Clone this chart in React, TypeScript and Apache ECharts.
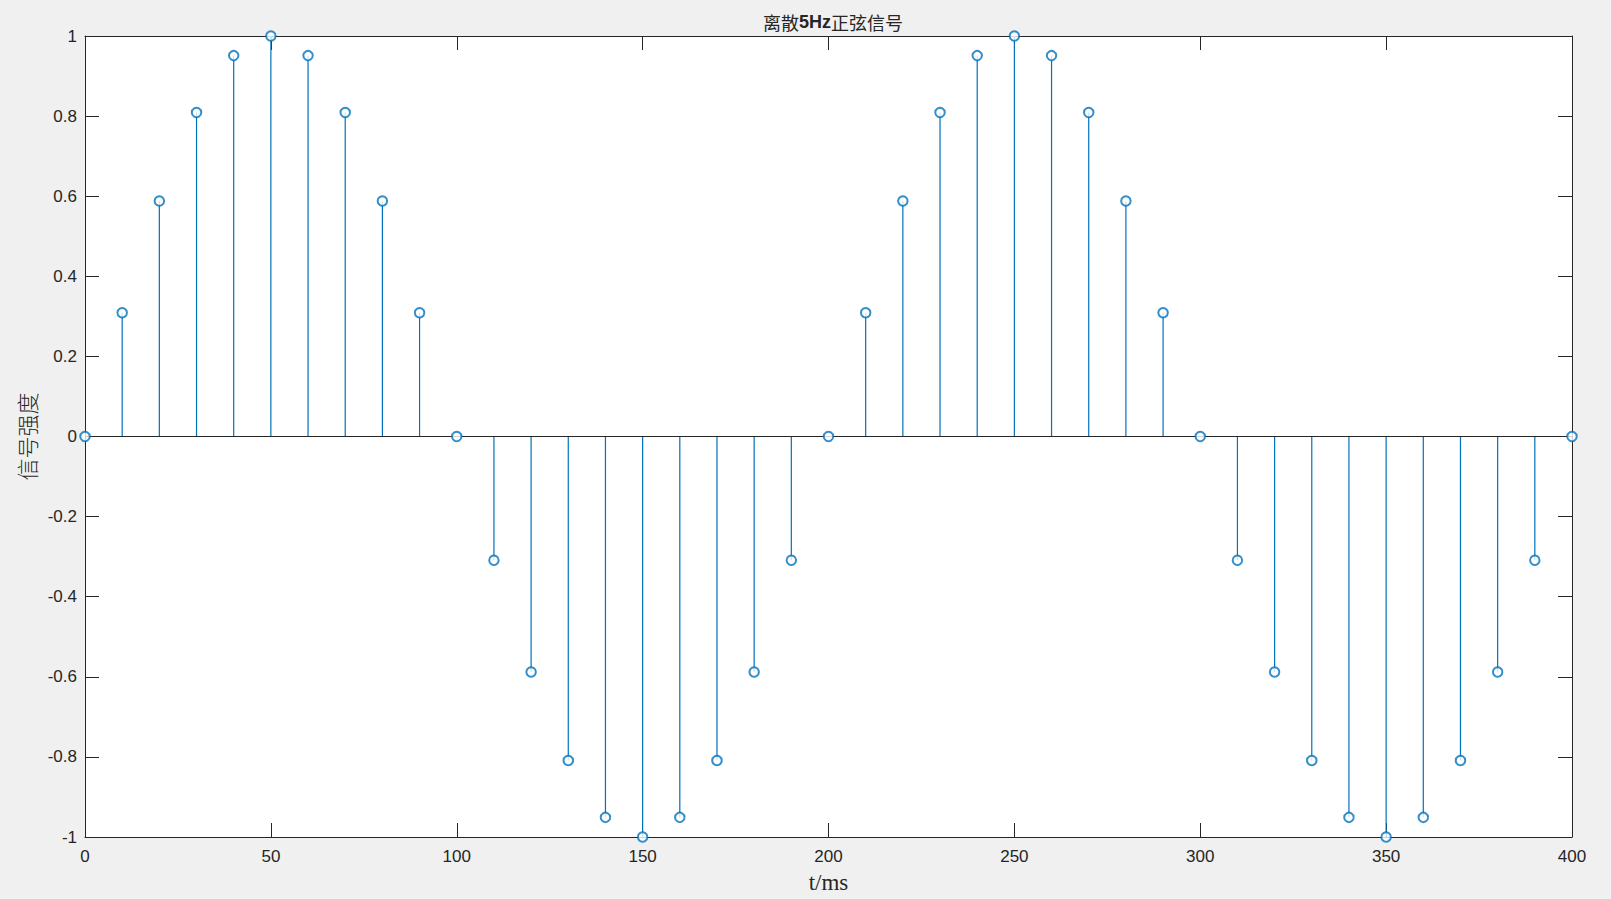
import React, { useEffect, useRef } from "react";
import * as echarts from "echarts";

const timesMs: number[] = [
  0, 10, 20, 30, 40, 50, 60, 70, 80, 90, 100, 110, 120, 130, 140, 150, 160, 170, 180, 190, 200,
  210, 220, 230, 240, 250, 260, 270, 280, 290, 300, 310, 320, 330, 340, 350, 360, 370, 380, 390, 400,
];
const amplitudes: number[] = [
  0, 0.309, 0.588, 0.809, 0.951, 1, 0.951, 0.809, 0.588, 0.309,
  0, -0.309, -0.588, -0.809, -0.951, -1, -0.951, -0.809, -0.588, -0.309,
  0, 0.309, 0.588, 0.809, 0.951, 1, 0.951, 0.809, 0.588, 0.309,
  0, -0.309, -0.588, -0.809, -0.951, -1, -0.951, -0.809, -0.588, -0.309,
  0,
];
const titleParts: string[] = ["离散", "5Hz", "正弦信号"];
const xLabel = "t/ms";
const yLabel = "信号强度";

const AXIS = "#262626";
const STEM = "#0072BD";
const SANS = "'Liberation Sans', Arial, 'Noto Sans CJK SC', sans-serif";

export default function App() {
  const ref = useRef<HTMLDivElement>(null);

  useEffect(() => {
    document.body.style.margin = "0";
    if (!ref.current) return;
    const chart = echarts.init(ref.current, null, { renderer: "svg" });
    const pts = timesMs.map((t, i) => [t, amplitudes[i]]);

    const tickCommon = {
      show: true,
      inside: true,
      length: 14,
      lineStyle: { color: AXIS, width: 1 },
    };

    chart.setOption({
      animation: false,
      backgroundColor: "#f0f0f0",
      title: {
        text: `{cn|${titleParts[0]}}{b|${titleParts[1]}}{cn|${titleParts[2]}}`,
        left: 828,
        textAlign: "center",
        top: 8,
        textStyle: {
          fontWeight: "normal",
          fontSize: 18,
          rich: {
            cn: { fontFamily: "'Noto Sans CJK SC', sans-serif", fontSize: 18, fontWeight: "normal", color: AXIS },
            b: { fontFamily: SANS, fontSize: 18, fontWeight: "bold", color: AXIS },
          },
        },
      },
      grid: {
        left: 85,
        top: 36,
        right: 39,
        bottom: 60,
        show: true,
        backgroundColor: "#ffffff",
        borderWidth: 0,
      },
      xAxis: [
        {
          type: "value",
          min: 0,
          max: 400,
          interval: 50,
          position: "bottom",
          name: xLabel,
          nameLocation: "middle",
          nameGap: 34,
          nameTextStyle: {
            fontFamily: "'Liberation Serif', 'Times New Roman', serif",
            fontSize: 23,
            color: AXIS,
          },
          axisLine: { show: true, onZero: false, lineStyle: { color: AXIS, width: 1 } },
          axisTick: tickCommon,
          axisLabel: { color: AXIS, fontSize: 17, fontFamily: SANS, margin: 11 },
          splitLine: { show: false },
        },
        {
          type: "value",
          min: 0,
          max: 400,
          interval: 50,
          position: "top",
          axisLine: { show: true, onZero: false, lineStyle: { color: AXIS, width: 1 } },
          axisTick: tickCommon,
          axisLabel: { show: false },
          splitLine: { show: false },
        },
      ],
      yAxis: [
        {
          type: "value",
          min: -1,
          max: 1,
          interval: 0.2,
          position: "left",
          name: yLabel,
          nameLocation: "middle",
          nameGap: 44,
          nameTextStyle: {
            fontFamily: "'Noto Sans CJK SC', sans-serif",
            fontSize: 22,
            fontWeight: 300,
            color: AXIS,
          },
          axisLine: { show: true, onZero: false, lineStyle: { color: AXIS, width: 1 } },
          axisTick: tickCommon,
          axisLabel: {
            color: AXIS,
            fontSize: 17,
            fontFamily: SANS,
            margin: 8,
            formatter: (v: number) => String(Math.round(v * 10) / 10),
          },
          splitLine: { show: false },
        },
        {
          type: "value",
          min: -1,
          max: 1,
          interval: 0.2,
          position: "right",
          axisLine: { show: true, onZero: false, lineStyle: { color: AXIS, width: 1 } },
          axisTick: tickCommon,
          axisLabel: { show: false },
          splitLine: { show: false },
        },
      ],
      series: [
        {
          type: "custom",
          xAxisIndex: 0,
          yAxisIndex: 0,
          z: 2,
          silent: true,
          data: pts,
          renderItem: (params: any, api: any) => {
            const x = api.value(0);
            const y = api.value(1);
            const p0 = api.coord([x, 0]);
            const p1 = api.coord([x, y]);
            return {
              type: "line",
              shape: { x1: p0[0], y1: p0[1], x2: p1[0], y2: p1[1] },
              style: { stroke: STEM, lineWidth: 1.2 },
            };
          },
          markLine: {
            silent: true,
            symbol: ["none", "none"],
            label: { show: false },
            lineStyle: { color: AXIS, width: 1, type: "solid" },
            data: [{ yAxis: 0 }],
          },
        },
        {
          type: "scatter",
          xAxisIndex: 0,
          yAxisIndex: 0,
          z: 5,
          symbol: "emptyCircle",
          symbolSize: 9.5,
          itemStyle: { color: STEM, borderColor: STEM, borderWidth: 1.2 },
          data: pts,
        },
      ],
    });

    return () => chart.dispose();
  }, []);

  return <div ref={ref} style={{ width: 1611, height: 899 }} />;
}
